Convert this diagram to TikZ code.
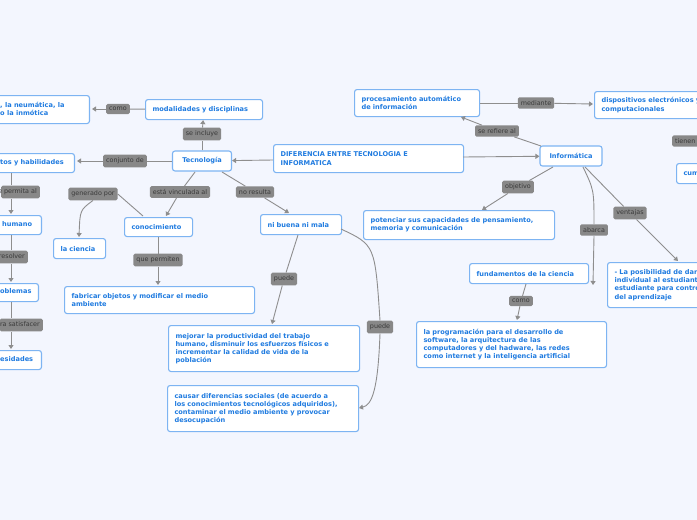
\documentclass[tikz,border=0pt]{standalone}
\usepackage{fontspec}
\setmainfont{DejaVu Sans}
\usetikzlibrary{arrows.meta}
\definecolor{bg}{HTML}{F3F6FE}
\definecolor{nb}{HTML}{1F7BE0}
\definecolor{nbd}{HTML}{7DB4F2}
\definecolor{lg}{HTML}{888888}
\definecolor{lt}{HTML}{3A3A3A}
\definecolor{ed}{HTML}{8E8E8E}
\tikzset{
 x=1pt,y=-1pt,
 box/.style={draw=nbd,line width=1.1pt,fill=white,rounded corners=2.5pt,font=\fontsize{6.6}{8.2}\selectfont\bfseries,text=nb,align=left,inner sep=0pt},
 btxt/.style={font=\fontsize{6.6}{8.2}\selectfont\bfseries,text=nb,align=left,inner sep=0pt,anchor=west},
 lab/.style={fill=lg,rounded corners=1.5pt,font=\fontsize{6.4}{7}\selectfont,text=lt,inner xsep=3pt,inner ysep=3.2pt},
 ed/.style={draw=ed,line width=0.9pt},
 ar/.style={ed,-{Triangle[length=4pt,width=5pt]}},
}
\newcommand{\bx}[6]{\node[box,minimum width=#4-#2,minimum height=#5-#3,text width=#4-#2-14,anchor=north west] (#1) at (#2,#3) {#6};}
\newcommand{\lbx}[5]{\node[box,minimum width=#4+40,minimum height=#5-#3,anchor=north east] (#1) at (#4,#3) {};}
\begin{document}
\begin{tikzpicture}
\useasboundingbox[fill=bg] (0,0) rectangle (697,520);
\begin{scope}
\clip (0,0) rectangle (697,520);
% left clipped nodes
\lbx{cut}{-40}{95}{90}{123}
\node[btxt] at (0,109) {\llap{la hidráulica}, la neumática, la\\\llap{la domótica }o la inmótica};
\lbx{con}{-40}{153}{75}{172}
\node[btxt] at (0,162.5) {\llap{conocimien}tos y habilidades};
\lbx{hum}{-40}{215}{42}{234}
\node[btxt] at (2,224.5) {\llap{ser }humano};
\lbx{pro}{-40}{283}{39}{301}
\node[btxt] at (0,292) {\llap{pr}oblemas};
\lbx{nec}{-40}{350}{42}{369}
\node[btxt] at (0,359.5) {\llap{nec}esidades};
% nodes
\bx{mod}{145}{99}{262}{119}{modalidades y disciplinas}
\node[box,minimum width=59,minimum height=20] (tec) at (202,161) {Tecnología};
\bx{dif}{273}{144}{463}{172}{DIFERENCIA ENTRE TECNOLOGIA E\\INFORMATICA}
\bx{cie}{53}{238}{105}{258}{la ciencia}
\bx{cono}{124}{217}{192}{236}{conocimiento}
\bx{fab}{64}{286}{254}{313}{fabricar objetos y modificar el medio\\ambiente}
\bx{nib}{260}{214}{341}{234}{ni buena ni mala}
\bx{mej}{168}{325}{359}{371}{mejorar la productividad del trabajo\\humano, disminuir los esfuerzos físicos e\\incrementar la calidad de vida de la\\población}
\bx{cau}{167}{385}{358}{431}{causar diferencias sociales (de acuerdo a\\los conocimientos tecnológicos adquiridos),\\contaminar el medio ambiente y provocar\\desocupación}
\bx{proc}{354}{89}{479}{116}{procesamiento automático\\de información}
\bx{dis}{594}{91}{760}{118}{dispositivos electrónicos y\\computacionales}
\node[box,minimum width=62,minimum height=20] (inf) at (571,156) {Informática};
\bx{pot}{363}{210}{554}{239}{potenciar sus capacidades de pensamiento,\\memoria y comunicación}
\bx{fun}{469}{263}{588}{283}{fundamentos de la ciencia}
\bx{prog}{416}{321}{606}{367}{la programación para el desarrollo de\\software, la arquitectura de las\\computadores y del hadware, las redes\\como internet y la inteligencia artificial}
\bx{pos}{607}{262}{780}{307}{- La posibilidad de dar\\individual al estudiante\\estudiante para controlar\\del aprendizaje}
\bx{cum}{676}{163}{760}{183}{cumplen}
\coordinate (abz) at (593,285);
% labels
\node[lab] (l1) at (118,109) {como};
\node[lab] (l2) at (202,134) {se incluye};
\node[lab] (l3) at (125,161) {conjunto de};
\node[lab] (l4) at (93,194) {generado por};
\node[lab] (l5) at (180,192) {está vinculada al};
\node[lab] (l6) at (255,192) {no resulta};
\node[lab] (l7) at (158,260) {que permiten};
\node[lab] (l8) at (284,279) {puede};
\node[lab] (l9) at (380,327) {puede};
\node[lab] (l10) at (536,103) {mediante};
\node[lab] (l11) at (497,131) {se refiere al};
\node[lab] (l12) at (518,187) {objetivo};
\node[lab] (l13) at (594,230) {abarca};
\node[lab] (l14) at (630,213) {ventajas};
\node[lab] (l15) at (521,301) {como};
\node[lab,anchor=west] (l16) at (672,141) {tienen};
\node[lab,anchor=east] (l17) at (40,192) {\llap{que }permita al};
\node[lab,anchor=east] (l18) at (28,257) {\llap{para }resolver};
\node[lab,anchor=east] (l19) at (43,325) {\llap{par}a satisfacer};
% edges
\draw[ed] (mod) -- (l1); \draw[ar] (l1) -- (92,109);
\draw[ed] (tec) -- (l2); \draw[ar] (l2) -- (mod);
\draw[ar] (273,160) -- (tec);
\draw[ar] (463,157) -- (inf);
\draw[ed] (tec) -- (l3); \draw[ar] (l3) -- (77,161);
\draw[ed] (11,173) -- (11,185); \draw[ar] (11,199) -- (11,214);
\draw[ed] (11,235) -- (11,250); \draw[ar] (11,264) -- (11,282);
\draw[ed] (11,302) -- (11,318); \draw[ar] (11,332) -- (11,349);
\draw[ed] (143,216) -- (l4.east);
\draw[ar] (l4.south) .. controls (80,210) .. (79,237);
\draw[ed] (195,172) -- (l5); \draw[ar] (l5) -- (166,216);
\draw[ed] (222,172) -- (l6); \draw[ar] (l6) -- (289,213);
\draw[ed] (158,237) -- (l7); \draw[ar] (l7) -- (158,285);
\draw[ed] (298,235) -- (l8); \draw[ar] (l8) -- (272,324);
\draw[ed] (341,229) .. controls (375,245) .. (l9.north);
\draw[ar] (l9.south) .. controls (378,390) and (372,405) .. (359,408);
\draw[ed] (480,103) -- (l10); \draw[ar] (l10) -- (593,104);
\draw[ed] (541,146) -- (l11); \draw[ar] (l11) -- (461,117);
\draw[ed] (553,167) -- (l12); \draw[ar] (l12) -- (482,210);
\draw[ed] (583,167) .. controls (594,190) .. (l13.north);
\draw[ar] (l13.south) -- (abz);
\draw[ed] (585,167) -- (l14); \draw[ar] (l14) -- (678,261);
\draw[ed] (526,284) -- (l15); \draw[ar] (l15) -- (517,320);
\end{scope}
\end{tikzpicture}
\end{document}
